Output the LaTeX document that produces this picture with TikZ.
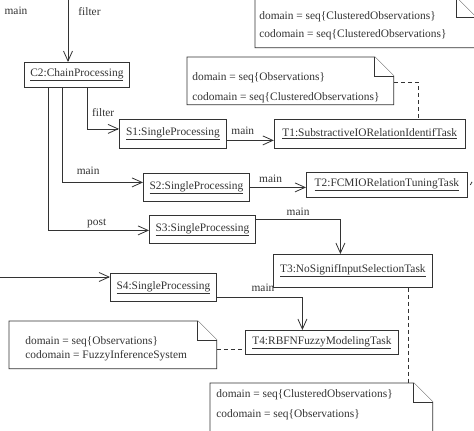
\documentclass[tikz,border=0pt]{standalone}
\usepackage{fontspec}
\setmainfont{Liberation Serif}
\usetikzlibrary{arrows.meta,positioning}

\newcommand{\dogear}[1]{%
  \draw[notebox] (#1.north west) -- ([xshift=-19pt]#1.north east)
    -- ([yshift=-19pt]#1.north east) -- (#1.south east) -- (#1.south west) -- cycle;
  \draw[notebox] ([xshift=-19pt]#1.north east) |- ([yshift=-19pt]#1.north east);
}

\begin{document}
\begin{tikzpicture}[x=1pt, y=-1pt, line width=0.8pt, color=black!80,
    font=\fontsize{11.4}{13.7}\selectfont,
    obj/.style={draw, inner sep=0pt, anchor=north west},
    notebox/.style={fill=white},
    noteshape/.style={inner sep=0pt, anchor=north west},
    notetext/.style={anchor=west, align=left, inner sep=0pt},
    link/.style={-{Straight Barb[length=10pt,width=9pt]}},
    dep/.style={dash pattern=on 4pt off 3pt},
    lbl/.style={inner sep=0pt}]
    \useasboundingbox (0,0) rectangle (474,431);
    \clip (0,0) rectangle (474,431);

    \node[obj, minimum width=105pt, minimum height=25pt] (c2) at (24,62) {\underline{C2:ChainProcessing}};
    \node[obj, minimum width=107pt, minimum height=29pt] (s1) at (119,119) {\underline{S1:SingleProcessing}};
    \node[obj, minimum width=191pt, minimum height=29pt, right = 47pt of s1] (t1) {\underline{T1:SubstractiveIORelationIdentifTask}};
    \node[obj, minimum width=106pt, minimum height=28pt] (s2) at (143,173) {\underline{S2:SingleProcessing}};
    \node[obj, minimum width=161pt, minimum height=25pt] (t2) at (306,172) {\underline{T2:FCMIORelationTuningTask}};
    \node[obj, minimum width=106pt, minimum height=28pt] (s3) at (149,215) {\underline{S3:SingleProcessing}};
    \node[obj, minimum width=159pt, minimum height=33pt] (t3) at (273,254) {\underline{T3:NoSignifInputSelectionTask}};
    \node[obj, minimum width=106pt, minimum height=28pt] (s4) at (110,273) {\underline{S4:SingleProcessing}};
    \node[obj, minimum width=153pt, minimum height=24pt] (t4) at (245,330) {\underline{T4:RBFNFuzzyModelingTask}};

    \node[noteshape, minimum width=220pt, minimum height=49pt] (n0) at (255,-2) {};
    \node[noteshape, minimum width=206pt, minimum height=47pt] (n1) at (187,57) {};
    \node[noteshape, minimum width=207pt, minimum height=47pt] (n2) at (9,321) {};
    \node[noteshape, minimum width=222pt, minimum height=60pt] (n3) at (210,383) {};

    \draw[dep] ([yshift=-1.5pt]n1.east) -| ([xshift=48.5pt]t1.north);
    \draw[dep] ([yshift=-4.5pt]n2.east) -- ([yshift=-7pt]t4.west);
    \draw[dep] ([xshift=55.5pt]t3.south) -- ++(0,96);
    \draw[dash pattern=on 3.5pt off 9pt] ([xshift=2.5pt]t2.east) -- ++(14,-24);

    \dogear{n0}
    \dogear{n1}
    \dogear{n2}
    \dogear{n3}

    \node[notetext] (n0t) at (259,26) {domain = seq\{ClusteredObservations\}\\[4pt]codomain = seq\{ClusteredObservations\}};
    \node[notetext] (n1t) at (192,88) {domain = seq\{Observations\}\\[6pt]codomain = seq\{ClusteredObservations\}};
    \node[notetext] (n2t) at (25,349) {domain = seq\{Observations\}\\codomain = FuzzyInferenceSystem};
    \node[notetext] (n3t) at (216,405) {domain = seq\{ClusteredObservations\}\\[6pt]codomain = seq\{Observations\}};

    \coordinate (in1) at (68,-5);
    \coordinate (in2) at (-5,277);
    \node[lbl] (lmain) at (16,11) {main};

    \draw[link] (in1) -- node[lbl, right = 10pt, pos=0.24] {filter} (in1 |- c2.north);
    \draw[link] ([xshift=10.5pt]c2.south) |- node[lbl, above = 12pt, pos=0.75] {filter} ([yshift=5pt]s1.west);
    \draw[link] ([xshift=-14.5pt]c2.south) |- node[lbl, above = 7pt, pos=0.66] {main} ([yshift=5pt]s2.west);
    \draw[link] ([xshift=-28.5pt]c2.south) |- node[lbl, above = 2pt, pos=0.74] {post} ([yshift=-1pt]s3.west);
    \draw[link] ([yshift=-6.5pt]s1.east) -- node[lbl, above = 5pt, pos=0.34] {main} ([yshift=-6.5pt]t1.west);
    \draw[link] (s2.east) -- node[lbl, above = 4pt, pos=0.37] {main} (s2.east -| t2.west);
    \draw[link] ([yshift=10pt]s3.east) -| node[lbl, above = 3pt, pos=0.25] {main} ([xshift=-12.5pt]t3.north);
    \draw[link] ([yshift=-10pt]s4.east) -| node[lbl, above = 5pt, pos=0.27] {main} ([xshift=-19.5pt]t4.north);
    \draw[link] (in2) -- (in2 -| s4.west);
\end{tikzpicture}
\end{document}
